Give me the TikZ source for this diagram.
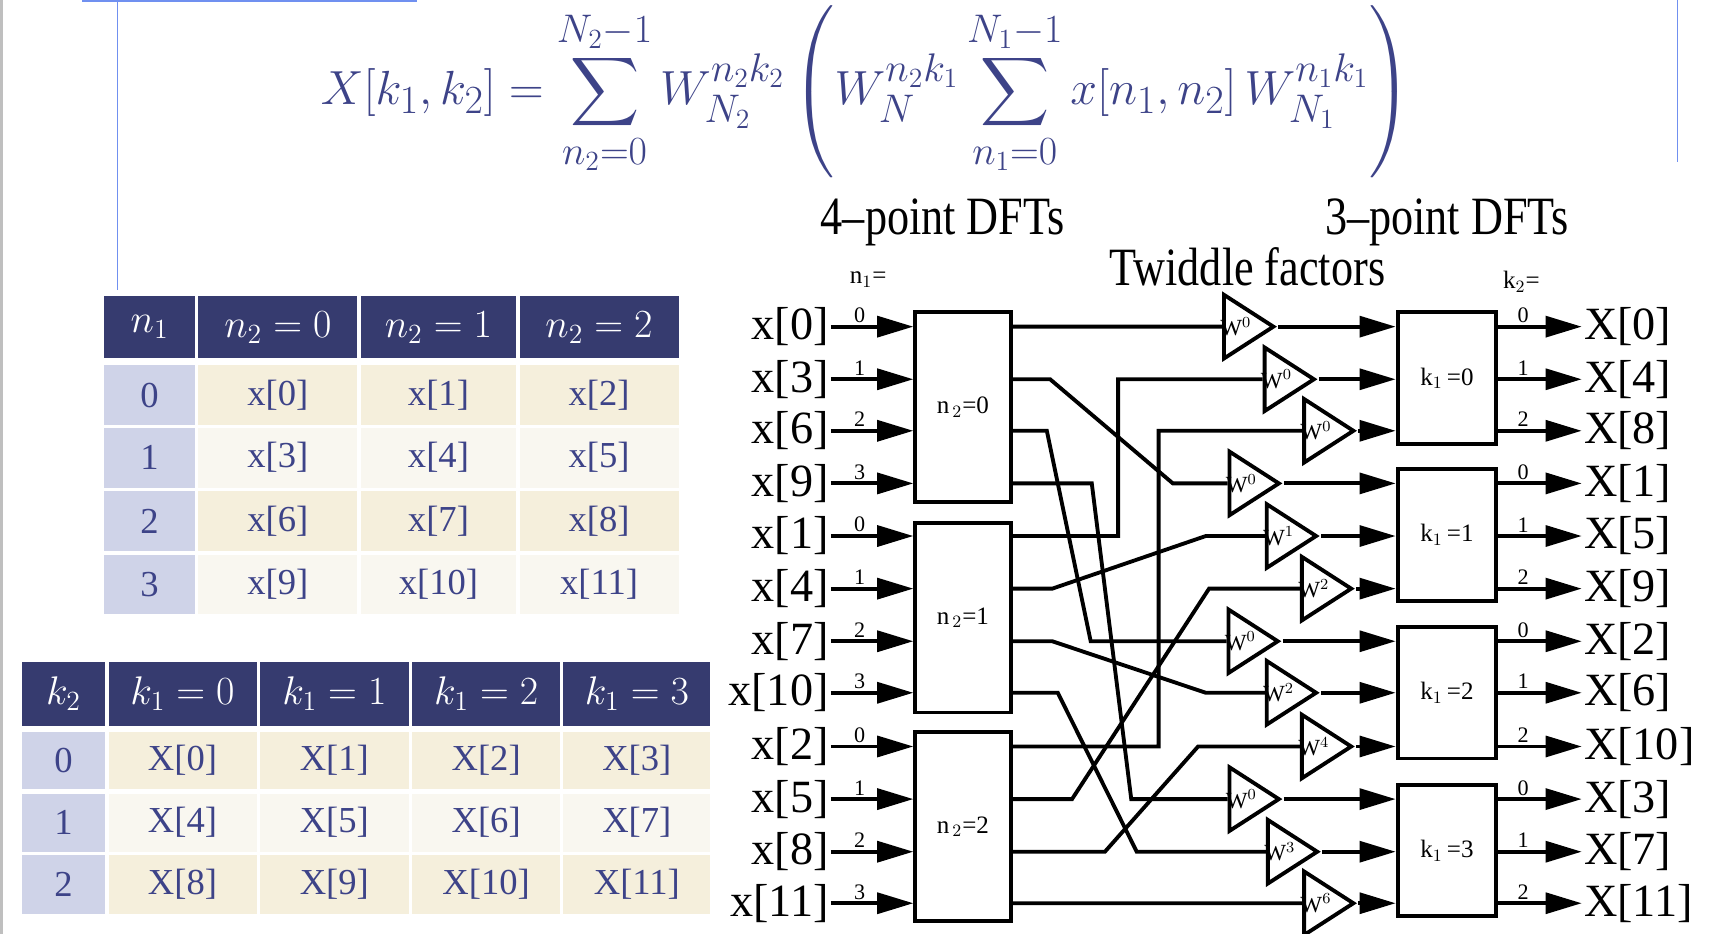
\documentclass[tikz,border=0pt]{standalone}
\usepackage{amsmath}
\usepackage{exscale}
\usepackage[no-math]{fontspec}
\setmainfont{Liberation Serif}
\newfontfamily\cond{Liberation Serif}[FakeStretch=0.82]
\usetikzlibrary{arrows.meta,shapes.geometric}
\definecolor{tblue}{HTML}{3D4388}
\definecolor{hdr}{HTML}{363B6F}
\definecolor{fcol}{HTML}{CFD3E8}
\definecolor{beigeA}{HTML}{F5EFDC}
\definecolor{beigeB}{HTML}{F9F7F0}
\definecolor{deco}{HTML}{7090F0}
\newcommand\tcell[7]{\node[tcell,fill=#6,minimum width={(#4-#2)*0.02cm},minimum height={(#5-#3)*0.02cm}] (#1) at ({(#2+#4)/2},{(#3+#5)/2}) {#7};}
\begin{document}
\begin{tikzpicture}[x=0.02cm,y=-0.02cm,
  tcell/.style={draw=none,inner sep=0,text=tblue,font=\fontsize{19}{22}\selectfont},
  wire/.style={line width=2pt},
  arr/.style={line width=2pt,-{Triangle[length=0.66cm,width=0.38cm]}},
  box/.style={draw,line width=2pt,inner sep=0,font=\fontsize{13}{15}\selectfont},
  inl/.style={inner sep=1pt,font=\fontsize{24}{28}\selectfont},
  numl/.style={inner sep=1pt,font=\fontsize{11.5}{13}\selectfont},
  tw/.style={draw,line width=2pt,isosceles triangle,isosceles triangle stretches,minimum width=1.16cm,minimum height=0.9cm,inner sep=0,font=\fontsize{12}{13}\selectfont},
  ttl/.style={font=\cond\fontsize{28}{32}\selectfont}]
\useasboundingbox (0,0) rectangle (1560,852);
% decorations
\draw[gray!50,line width=1.5pt] (1.5,0) -- (1.5,852);
\draw[deco,line width=0.8pt] (75,1) -- (380,1);
\draw[deco,line width=0.6pt] (95,1) arc[start angle=180,end angle=360,radius=12];
\draw[deco,line width=0.6pt] (107,1) -- (107,265);
\draw[deco,line width=0.6pt] (1530,0) -- (1530,148);
% formula
\node[text=tblue,font=\fontsize{28.5}{34}\selectfont] (eq) at (790,84) {$\displaystyle X[k_1,k_2]=\sum_{n_2=0}^{N_2-1}W_{N_2}^{n_2k_2}\left(W_N^{n_2k_1}\sum_{n_1=0}^{N_1-1}x[n_1,n_2]\,W_{N_1}^{n_1k_1}\vphantom{\sum_{n_1=0}^{N_1-1}}\right)$};
% table 1
\tcell{h0}{95}{270}{178}{327}{hdr}{\color{white}\fontsize{22}{24}\selectfont$n_1$}
\tcell{h1}{181}{270}{326}{327}{hdr}{\color{white}\fontsize{22}{24}\selectfont$n_2=0$}
\tcell{h2}{329}{270}{471}{327}{hdr}{\color{white}\fontsize{22}{24}\selectfont$n_2=1$}
\tcell{h3}{474}{270}{619}{327}{hdr}{\color{white}\fontsize{22}{24}\selectfont$n_2=2$}
\tcell{a00}{95}{333}{178}{388}{fcol}{0}
\tcell{a01}{181}{333}{326}{388}{beigeA}{x[0]}
\tcell{a02}{329}{333}{471}{388}{beigeA}{x[1]}
\tcell{a03}{474}{333}{619}{388}{beigeA}{x[2]}
\tcell{a10}{95}{390}{178}{445}{fcol}{1}
\tcell{a11}{181}{390}{326}{445}{beigeB}{x[3]}
\tcell{a12}{329}{390}{471}{445}{beigeB}{x[4]}
\tcell{a13}{474}{390}{619}{445}{beigeB}{x[5]}
\tcell{a20}{95}{448}{178}{503}{fcol}{2}
\tcell{a21}{181}{448}{326}{503}{beigeA}{x[6]}
\tcell{a22}{329}{448}{471}{503}{beigeA}{x[7]}
\tcell{a23}{474}{448}{619}{503}{beigeA}{x[8]}
\tcell{a30}{95}{506}{178}{560}{fcol}{3}
\tcell{a31}{181}{506}{326}{560}{beigeB}{x[9]}
\tcell{a32}{329}{506}{471}{560}{beigeB}{x[10]}
\tcell{a33}{474}{506}{619}{560}{beigeB}{x[11]}
% table 2
\tcell{g0}{20}{604}{96}{662}{hdr}{\color{white}\fontsize{22}{24}\selectfont$k_2$}
\tcell{g1}{99}{604}{234}{662}{hdr}{\color{white}\fontsize{22}{24}\selectfont$k_1=0$}
\tcell{g2}{237}{604}{373}{662}{hdr}{\color{white}\fontsize{22}{24}\selectfont$k_1=1$}
\tcell{g3}{376}{604}{511}{662}{hdr}{\color{white}\fontsize{22}{24}\selectfont$k_1=2$}
\tcell{g4}{514}{604}{648}{662}{hdr}{\color{white}\fontsize{22}{24}\selectfont$k_1=3$}
\tcell{b00}{20}{668}{96}{720}{fcol}{0}
\tcell{b01}{99}{668}{234}{720}{beigeA}{X[0]}
\tcell{b02}{237}{668}{373}{720}{beigeA}{X[1]}
\tcell{b03}{376}{668}{511}{720}{beigeA}{X[2]}
\tcell{b04}{514}{668}{648}{720}{beigeA}{X[3]}
\tcell{b10}{20}{724}{96}{777}{fcol}{1}
\tcell{b11}{99}{724}{234}{777}{beigeB}{X[4]}
\tcell{b12}{237}{724}{373}{777}{beigeB}{X[5]}
\tcell{b13}{376}{724}{511}{777}{beigeB}{X[6]}
\tcell{b14}{514}{724}{648}{777}{beigeB}{X[7]}
\tcell{b20}{20}{780}{96}{834}{fcol}{2}
\tcell{b21}{99}{780}{234}{834}{beigeA}{X[8]}
\tcell{b22}{237}{780}{373}{834}{beigeA}{X[9]}
\tcell{b23}{376}{780}{511}{834}{beigeA}{X[10]}
\tcell{b24}{514}{780}{648}{834}{beigeA}{X[11]}
% titles
\node[ttl] (t4p) at (860,203) {4\textendash point DFTs};
\node[ttl] (t3p) at (1320,203) {3\textendash point DFTs};
\node[ttl] (ttw) at (1138,243) {Twiddle factors};
\node[numl,font=\fontsize{13}{15}\selectfont] (n1eq) at (792,255) {n$_1$=};
\node[numl,font=\fontsize{13}{15}\selectfont] (k2eq) at (1388,257) {k$_2$=};
% boxes
\node[box,minimum width=1.74cm,minimum height=3.46cm] (ib0) at (878.5,371.5) {n$_{\,2}$=0};
\node[box,minimum width=1.74cm,minimum height=3.46cm] (ib1) at (878.5,563.5) {n$_{\,2}$=1};
\node[box,minimum width=1.74cm,minimum height=3.44cm] (ib2) at (878.5,754) {n$_{\,2}$=2};
\node[box,minimum width=1.8cm,minimum height=2.4cm] (ob0) at (1320,345) {k$_1$\,=0};
\node[box,minimum width=1.8cm,minimum height=2.4cm] (ob1) at (1320,488) {k$_1$\,=1};
\node[box,minimum width=1.8cm,minimum height=2.4cm] (ob2) at (1320,632) {k$_1$\,=2};
\node[box,minimum width=1.8cm,minimum height=2.4cm] (ob3) at (1320,776) {k$_1$\,=3};
% inputs and outputs
\foreach \i/\y/\xi/\Xo in {0/298/0/0,1/346/3/4,2/393/6/8,3/441/9/1,4/489/1/5,5/537/4/9,6/585/7/2,7/632/10/6,8/681/2/10,9/729/5/3,10/777/8/7,11/824/11/11}{
  \pgfmathtruncatemacro\b{int(\i/4)}
  \pgfmathtruncatemacro\n{mod(\i,4)}
  \pgfmathtruncatemacro\c{int(\i/3)}
  \pgfmathtruncatemacro\m{mod(\i,3)}
  \node[inl,anchor=east] (in\i) at (758,\y) {x[\xi]};
  \draw[arr] (in\i.east) -- (in\i.east -| ib\b.west) node[numl,pos=0.35,above] {\n};
  \node[inl,anchor=west] (out\i) at (1443,\y) {X[\Xo]};
  \draw[arr] (out\i.west -| ob\c.east) -- (out\i.west) node[numl,pos=0.3,above] {\m};
}
% twiddles
\foreach \i/\y/\cx/\e in {0/298/1131/0,1/346/1168/0,2/393/1204/0,3/441/1136/0,4/489/1170/1,5/537/1202/2,6/585/1135/0,7/632/1170/2,8/681/1202/4,9/729/1136/0,10/777/1171/3,11/824/1204/6}{
  \pgfmathtruncatemacro\c{int(\i/3)}
  \node[tw] (t\i) at (\cx,\y) {\hspace*{-4pt}W$^{\e}$};
  \draw[arr] (t\i.apex) -- (t\i.apex -| ob\c.west);
}
% wiring
\draw[wire] (ib0.east|-in0) -- (t0.west);
\draw[wire] (ib0.east|-in1) -- (958,346) -- (1070,441) -- (t3.west);
\draw[wire] (ib0.east|-in2) -- (955,393) -- (995,585) -- (t6.west);
\draw[wire] (ib0.east|-in3) -- (996,441) -- (1032,729) -- (t9.west);
\draw[wire] (ib1.east|-in4) -- (1020,489) -- (1020,346) -- (t1.west);
\draw[wire] (ib1.east|-in5) -- (960,537) -- (1100,489) -- (t4.west);
\draw[wire] (ib1.east|-in6) -- (960,585) -- (1100,632) -- (t7.west);
\draw[wire] (ib1.east|-in7) -- (965,632) -- (1037,777) -- (t10.west);
\draw[wire] (ib2.east|-in8) -- (1057,681) -- (1057,393) -- (t2.west);
\draw[wire] (ib2.east|-in9) -- (978,729) -- (1103,537) -- (t5.west);
\draw[wire] (ib2.east|-in10) -- (1008,777) -- (1093,681) -- (t8.west);
\draw[wire] (ib2.east|-in11) -- (t11.west);
\end{tikzpicture}
\end{document}
